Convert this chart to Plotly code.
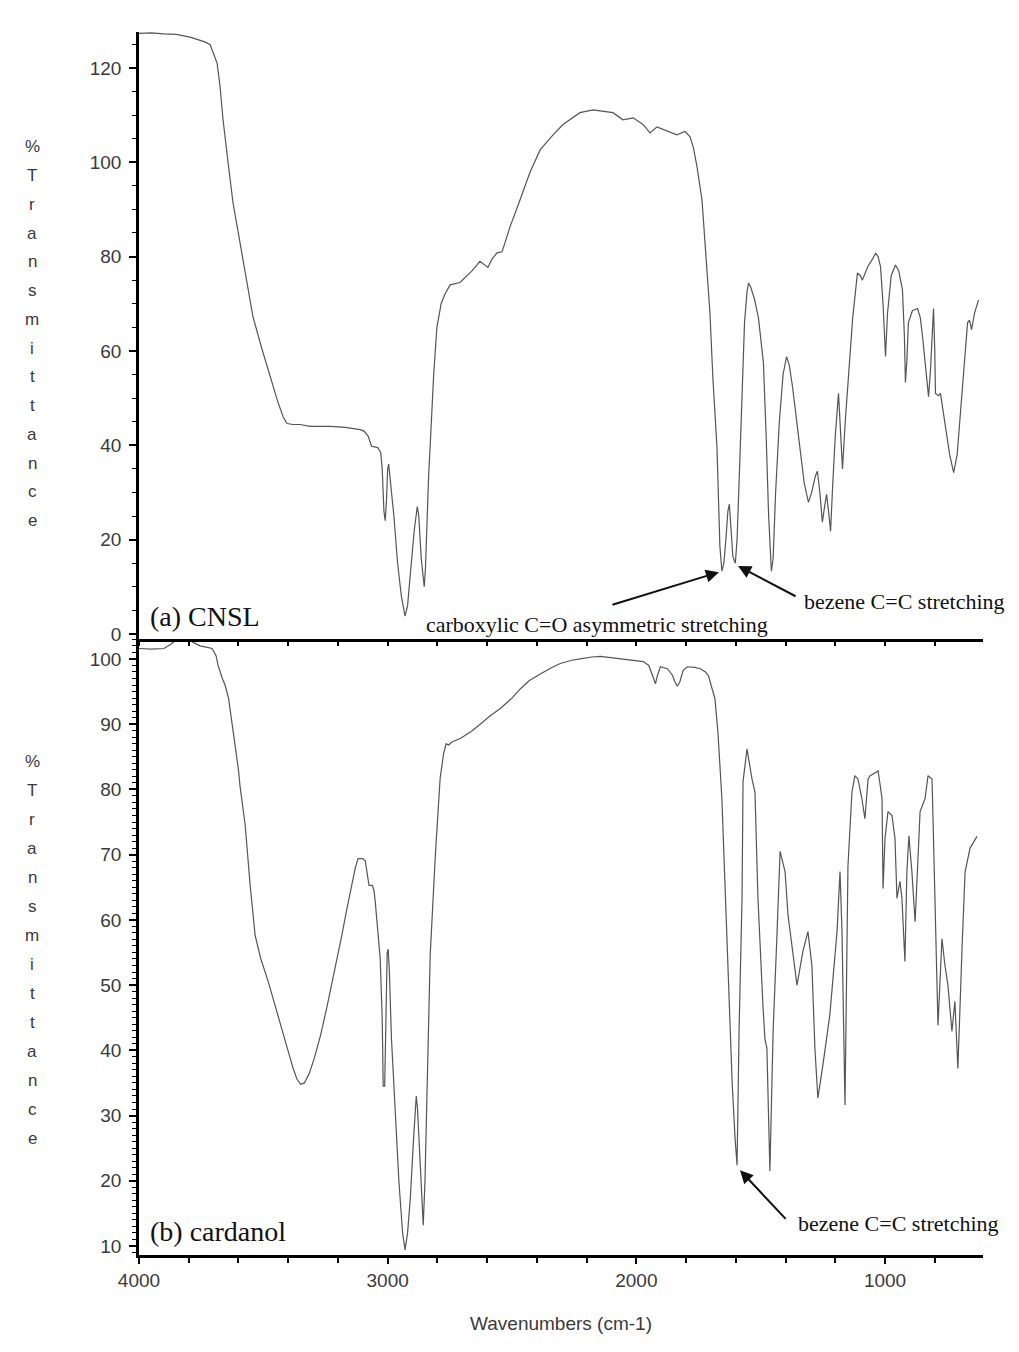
import plotly.graph_objects as go

# ---------------- data ----------------
# (a) CNSL spectrum: wavenumber (cm-1) and %T
wn_cnsl = [4000, 3950, 3900, 3850, 3795, 3760, 3735, 3714, 3700, 3686, 3674, 3662, 3642, 3622, 3594, 3566,
           3542, 3505, 3473, 3441, 3420, 3405, 3380, 3352, 3312, 3231, 3170, 3111, 3095, 3078, 3065, 3040,
           3028, 3022, 3015, 3010, 3005, 3000, 2996, 2990, 2975, 2960, 2945, 2930, 2920, 2905, 2893, 2881,
           2875, 2865, 2853, 2848, 2842, 2835, 2829, 2815, 2802, 2785, 2770, 2749, 2709, 2680, 2660, 2629,
           2597, 2580, 2560, 2540, 2508, 2468, 2428, 2387, 2347, 2335, 2295, 2227, 2174, 2094, 2054, 2013,
           1973, 1945, 1917, 1865, 1837, 1804, 1784, 1770, 1756, 1736, 1724, 1716, 1704, 1692, 1676, 1670,
           1664, 1656, 1648, 1640, 1632, 1626, 1620, 1612, 1602, 1595, 1585, 1575, 1565, 1555, 1549, 1540,
           1525, 1509, 1500, 1489, 1478, 1468, 1457, 1450, 1440, 1425, 1410, 1396, 1385, 1372, 1355, 1340,
           1325, 1308, 1295, 1280, 1272, 1262, 1252, 1243, 1235, 1227, 1219, 1210, 1200, 1187, 1180, 1171,
           1160, 1143, 1130, 1111, 1100, 1091, 1070, 1050, 1038, 1028, 1018, 1008, 998, 990, 975, 958,
           945, 930, 922, 918, 912, 906, 890, 869, 858, 849, 838, 825, 817, 810, 805, 800,
           797, 785, 777, 760, 740, 724, 710, 698, 684, 668, 660, 652, 640, 624]
t_cnsl = [127.3, 127.4, 127.2, 127.1, 126.5, 126.0, 125.5, 124.9, 123, 121, 116, 109, 100, 91.4, 83, 74.5,
          67.3, 60.3, 54.6, 49.1, 46, 44.6, 44.4, 44.4, 44.0, 44.0, 43.8, 43.3, 43.0, 41.9, 39.8, 39.5,
          38.5, 35, 26, 24, 28, 35, 36, 33, 25, 15, 8, 3.8, 6, 15, 22, 27,
          25, 16, 10, 14, 25, 34, 40, 55, 65, 70, 72, 74, 74.5, 76, 77, 79,
          77.7, 79.5, 80.8, 81, 86.3, 92, 97.8, 102.6, 105.2, 105.8, 108, 110.5, 111.1, 110.5, 109, 109.4,
          108, 106.2, 107.5, 106.5, 105.8, 106.5, 105.4, 103, 99, 92, 82, 77, 68, 54, 39.8, 29,
          18.6, 13.3, 15, 20, 26, 27.5, 22, 16.5, 15, 20, 35, 52, 66, 72.5, 74.4, 73.5,
          71, 67, 63, 57.5, 42, 25, 13.3, 16, 30, 45, 55, 58.8, 57, 52.4, 45, 38,
          32, 27.9, 30, 33.5, 34.5, 30, 23.7, 27, 29.6, 26, 21.8, 32, 42, 51, 45, 35,
          45, 58.8, 67, 76.5, 76, 75, 77.8, 79.5, 80.7, 80, 77.8, 70, 58.8, 68, 76, 78.2,
          77, 73, 63, 53.3, 58, 66, 68.5, 69, 67, 63, 57, 50.3, 56, 64, 69, 60,
          51, 50.5, 51, 45, 38, 34.2, 38, 46, 55.4, 66, 66.5, 64.5, 68, 70.8]

# (b) cardanol spectrum: wavenumber (cm-1) and %T
wn_card = [4000, 3950, 3900, 3870, 3855, 3830, 3795, 3770, 3755, 3730, 3706, 3690, 3682, 3665, 3654, 3640,
           3634, 3614, 3600, 3594, 3573, 3553, 3533, 3510, 3480, 3450, 3420, 3400, 3380, 3365, 3350, 3335,
           3315, 3295, 3270, 3245, 3220, 3200, 3185, 3165, 3145, 3130, 3119, 3100, 3090, 3080, 3075, 3062,
           3055, 3050, 3038, 3030, 3022, 3018, 3012, 3008, 3002, 2998, 2993, 2985, 2970, 2955, 2940, 2930,
           2920, 2909, 2895, 2885, 2880, 2875, 2865, 2857, 2850, 2843, 2837, 2829, 2820, 2809, 2800, 2789,
           2775, 2765, 2755, 2740, 2708, 2660, 2628, 2590, 2547, 2500, 2467, 2430, 2386, 2340, 2306, 2260,
           2225, 2180, 2145, 2100, 2064, 2012, 1972, 1950, 1935, 1923, 1915, 1903, 1875, 1855, 1845, 1835,
           1825, 1812, 1795, 1765, 1742, 1722, 1710, 1700, 1690, 1684, 1672, 1656, 1644, 1631, 1615, 1603,
           1595, 1587, 1575, 1571, 1555, 1535, 1523, 1511, 1495, 1491, 1483, 1475, 1463, 1450, 1434, 1422,
           1402, 1390, 1354, 1330, 1310, 1294, 1282, 1270, 1250, 1222, 1193, 1181, 1173, 1161, 1149, 1133,
           1121, 1109, 1093, 1081, 1068, 1060, 1032, 1028, 1012, 1008, 1000, 988, 972, 960, 952, 940,
           932, 920, 912, 904, 892, 879, 859, 839, 827, 811, 807, 799, 787, 771, 759, 747,
           731, 719, 707, 690, 678, 658, 630]
t_card = [101.6, 101.5, 101.6, 102.3, 102.8, 103, 102.8, 102.3, 102, 101.8, 101.6, 100.5, 99, 97, 96, 94,
          92.4, 86.7, 83, 80.6, 74.5, 65.3, 57.6, 54, 50.5, 46.5, 42.5, 39.5, 37.2, 35.6, 34.8, 35,
          36.5, 38.8, 42.3, 46.5, 51, 54.5, 57.5, 61.5, 65.5, 68, 69.4, 69.4, 69, 66, 65.3, 65.3,
          64.5, 62.8, 57.6, 54, 45, 34.5, 34.5, 45, 55, 55.5, 52, 42, 31, 20, 12, 9.4,
          12, 17.3, 27, 33, 31, 27, 18, 13.2, 20, 30, 41.4, 54.6, 62, 69.4, 75, 81.7,
          85.5, 87, 86.8, 87.3, 87.8, 89, 90, 91.2, 92.4, 94, 95.4, 96.7, 97.7, 98.7, 99.3, 99.8,
          100, 100.3, 100.4, 100.2, 100, 99.7, 99.6, 99, 97.5, 96.2, 97.5, 98.8, 98.5, 97.5, 96.5, 95.8,
          96.5, 98.2, 98.8, 98.7, 98.5, 98, 97.4, 96, 94.5, 93.9, 88.8, 78.6, 65.9, 53, 35.3, 26.5,
          22.4, 42.9, 63.3, 81.2, 86.2, 81.6, 79.6, 63.3, 48, 46.9, 41.8, 40.3, 21.5, 43, 58.2, 70.5,
          67.4, 60.7, 50, 55.2, 58.2, 53, 40.3, 32.7, 37.7, 45.4, 58.2, 67.4, 58.2, 31.6, 68.3, 79.6,
          82.1, 81.6, 78.6, 75.5, 81.6, 82.1, 82.7, 82.9, 78.6, 64.8, 72.5, 76.6, 76, 72.5, 63.3, 65.9,
          63.3, 53.6, 67.4, 72.9, 67.4, 59.7, 76.6, 78.6, 82.1, 81.6, 75.5, 63.3, 43.8, 57.1, 53, 50,
          42.9, 47.5, 37.2, 56, 67.4, 71, 72.8]

assert len(wn_cnsl) == len(t_cnsl) and len(wn_card) == len(t_card)

x_range = [4000, 606]
y_range_cnsl = [-1.06, 127.6]
y_range_card = [8.62, 103.06]
y_title_letters = ["%", "T", "r", "a", "n", "s", "m", "i", "t", "t", "a", "n", "c", "e"]

# ---------------- figure ----------------
line_style = dict(color="#555555", width=1.2)
fig = go.Figure()
fig.add_trace(go.Scatter(x=wn_cnsl, y=t_cnsl, mode="lines", line=line_style,
                         xaxis="x2", yaxis="y2", showlegend=False))
fig.add_trace(go.Scatter(x=wn_card, y=t_card, mode="lines", line=line_style,
                         xaxis="x", yaxis="y", showlegend=False))

split = 0.5037
tick_font = dict(family="Liberation Sans, Arial, sans-serif", size=19, color="#3a3a3a")

fig.update_layout(
    width=1003, height=1336,
    margin=dict(l=131, r=28, t=24, b=87),
    plot_bgcolor="white", paper_bgcolor="white",
    xaxis=dict(domain=[0, 1], anchor="y", range=x_range, autorange=False,
               tickmode="linear", tick0=0, dtick=1000,
               ticks="outside", ticklen=6, tickwidth=1.5, tickcolor="black",
               minor=dict(ticks="outside", ticklen=5, tickwidth=1.5, dtick=200, tick0=0, tickcolor="black"),
               showline=True, linewidth=2.5, linecolor="black",
               showgrid=False, zeroline=False, tickfont=tick_font,
               title=dict(text="Wavenumbers (cm-1)", font=tick_font, standoff=28)),
    xaxis2=dict(domain=[0, 1], anchor="y2", range=x_range, autorange=False, matches="x",
                tickmode="linear", tick0=0, dtick=200,
                ticks="outside", ticklen=4, tickwidth=1.5, tickcolor="black",
                showticklabels=False,
                showline=True, linewidth=2.5, linecolor="black",
                showgrid=False, zeroline=False),
    yaxis=dict(domain=[0, split], anchor="x", range=y_range_card, autorange=False,
               tickmode="linear", tick0=0, dtick=10,
               ticks="outside", ticklen=7, tickwidth=1.5, tickcolor="black",
               minor=dict(ticks="outside", ticklen=4, tickwidth=1.2, dtick=1, tick0=0, tickcolor="black"),
               showline=True, linewidth=2.5, linecolor="black",
               showgrid=False, zeroline=False, tickfont=tick_font, ticklabelstandoff=4),
    yaxis2=dict(domain=[split, 1], anchor="x2", range=y_range_cnsl, autorange=False,
                tickmode="linear", tick0=0, dtick=20,
                ticks="outside", ticklen=7, tickwidth=1.5, tickcolor="black",
                minor=dict(ticks="outside", ticklen=4, tickwidth=1.2, dtick=5, tick0=0, tickcolor="black"),
                showline=True, linewidth=2.5, linecolor="black",
                showgrid=False, zeroline=False, tickfont=tick_font, ticklabelstandoff=4),
)

# stacked y-axis titles
letter_font = dict(family="Liberation Sans, Arial, sans-serif", size=17, color="#3a3a3a")
plot_top_px, plot_h_px = 32, 1225
for start_px, step_px in [(147, 28.8), (763, 29.0)]:
    for i, ch in enumerate(y_title_letters):
        ypx = start_px + i * step_px
        fig.add_annotation(text=ch, xref="paper", yref="paper",
                           x=(32 - 139) / 844, y=1 - (ypx - plot_top_px) / plot_h_px,
                           xanchor="center", yanchor="middle", showarrow=False, font=letter_font)

serif = "Liberation Serif, Times New Roman, serif"
# panel labels
fig.add_annotation(text="(a) CNSL", xref="x2", yref="y2", x=3964, y=3.8, xanchor="left", yanchor="middle",
                   showarrow=False, font=dict(family=serif, size=28, color="#111"))
fig.add_annotation(text="(b) cardanol", xref="x", yref="y", x=3964, y=12.2, xanchor="left", yanchor="middle",
                   showarrow=False, font=dict(family=serif, size=28, color="#111"))

# band annotations
ann_font = dict(family=serif, size=22, color="#111")
fig.add_annotation(text="carboxylic C=O asymmetric stretching", xref="x2", yref="y2", x=2855, y=2.0,
                   xanchor="left", yanchor="middle", showarrow=False, font=ann_font)
fig.add_annotation(text="bezene C=C stretching", xref="x2", yref="y2", x=1332, y=6.8,
                   xanchor="left", yanchor="middle", showarrow=False, font=ann_font)
fig.add_annotation(text="bezene C=C stretching", xref="x", yref="y", x=1356, y=13.4,
                   xanchor="left", yanchor="middle", showarrow=False, font=ann_font)

arrow_style = dict(showarrow=True, arrowhead=2, arrowsize=1.3, arrowwidth=2, arrowcolor="#111", text="")
fig.add_annotation(xref="x2", yref="y2", x=1668, y=13.1, ax=-108, ay=33, **arrow_style)
fig.add_annotation(xref="x2", yref="y2", x=1591, y=14.4, ax=59, ay=31, **arrow_style)
fig.add_annotation(xref="x", yref="y", x=1583, y=21.6, ax=47, ay=50, **arrow_style)

fig.write_html("out.html")
